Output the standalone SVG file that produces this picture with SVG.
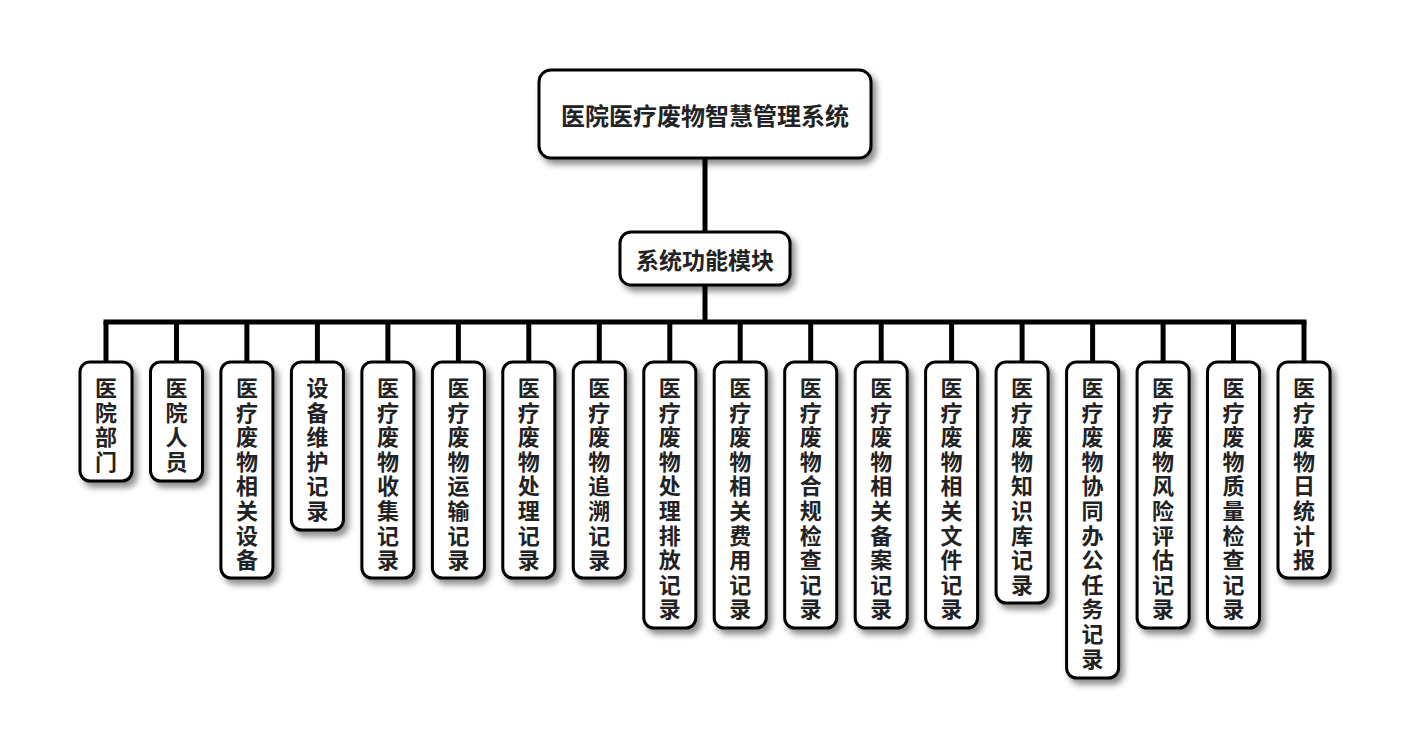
<svg xmlns="http://www.w3.org/2000/svg" width="1409" height="754" viewBox="0 0 1409 754">
<defs>
<filter id="sh" x="-30%" y="-30%" width="160%" height="160%">
<feDropShadow dx="4" dy="5" stdDeviation="3" flood-color="#000" flood-opacity="0.45"/>
</filter>
<style>
.box{fill:#fff;stroke:#000;stroke-width:3;filter:url(#sh)}
.t{font-family:"Noto Sans CJK SC","Noto Sans",sans-serif;font-weight:bold;fill:#222;text-anchor:middle;dominant-baseline:central}
.leaf{font-size:22px}
.conn{stroke:#000;stroke-width:5;fill:none}
</style>
</defs>
<rect width="1409" height="754" fill="#fff"/>
<g id="connectors">
<line class="conn" x1="705" y1="158" x2="705" y2="232"/>
<line class="conn" x1="705" y1="285" x2="705" y2="324"/>
<line class="conn" x1="103.5" y1="322" x2="1306.5" y2="322"/>
<line class="conn" x1="106" y1="322" x2="106" y2="362"/>
<line class="conn" x1="176.5" y1="322" x2="176.5" y2="362"/>
<line class="conn" x1="246.9" y1="322" x2="246.9" y2="362"/>
<line class="conn" x1="317.4" y1="322" x2="317.4" y2="362"/>
<line class="conn" x1="387.9" y1="322" x2="387.9" y2="362"/>
<line class="conn" x1="458.4" y1="322" x2="458.4" y2="362"/>
<line class="conn" x1="528.8" y1="322" x2="528.8" y2="362"/>
<line class="conn" x1="599.3" y1="322" x2="599.3" y2="362"/>
<line class="conn" x1="669.8" y1="322" x2="669.8" y2="362"/>
<line class="conn" x1="740.2" y1="322" x2="740.2" y2="362"/>
<line class="conn" x1="810.7" y1="322" x2="810.7" y2="362"/>
<line class="conn" x1="881.2" y1="322" x2="881.2" y2="362"/>
<line class="conn" x1="951.6" y1="322" x2="951.6" y2="362"/>
<line class="conn" x1="1022.1" y1="322" x2="1022.1" y2="362"/>
<line class="conn" x1="1092.6" y1="322" x2="1092.6" y2="362"/>
<line class="conn" x1="1163.1" y1="322" x2="1163.1" y2="362"/>
<line class="conn" x1="1233.5" y1="322" x2="1233.5" y2="362"/>
<line class="conn" x1="1304" y1="322" x2="1304" y2="362"/>
</g>
<g id="root">
<rect class="box" x="539" y="70" width="332" height="88" rx="12"/>
<text class="t" x="705" y="114" font-size="24">医院医疗废物智慧管理系统</text>
</g>
<g id="module">
<rect class="box" x="620" y="232" width="170" height="53" rx="11"/>
<text class="t" x="705" y="259" font-size="23">系统功能模块</text>
</g>
<g id="n1"><rect class="box" x="80" y="362" width="52" height="119" rx="10"/><text class="t leaf" x="106" y="386"><tspan x="106">医</tspan><tspan x="106" dy="24.6">院</tspan><tspan x="106" dy="24.6">部</tspan><tspan x="106" dy="24.6">门</tspan></text></g>
<g id="n2"><rect class="box" x="150.5" y="362" width="52" height="119" rx="10"/><text class="t leaf" x="176.5" y="386"><tspan x="176.5">医</tspan><tspan x="176.5" dy="24.6">院</tspan><tspan x="176.5" dy="24.6">人</tspan><tspan x="176.5" dy="24.6">员</tspan></text></g>
<g id="n3"><rect class="box" x="220.9" y="362" width="52" height="216" rx="10"/><text class="t leaf" x="246.9" y="386"><tspan x="246.9">医</tspan><tspan x="246.9" dy="24.6">疗</tspan><tspan x="246.9" dy="24.6">废</tspan><tspan x="246.9" dy="24.6">物</tspan><tspan x="246.9" dy="24.6">相</tspan><tspan x="246.9" dy="24.6">关</tspan><tspan x="246.9" dy="24.6">设</tspan><tspan x="246.9" dy="24.6">备</tspan></text></g>
<g id="n4"><rect class="box" x="291.4" y="362" width="52" height="168" rx="10"/><text class="t leaf" x="317.4" y="386"><tspan x="317.4">设</tspan><tspan x="317.4" dy="24.6">备</tspan><tspan x="317.4" dy="24.6">维</tspan><tspan x="317.4" dy="24.6">护</tspan><tspan x="317.4" dy="24.6">记</tspan><tspan x="317.4" dy="24.6">录</tspan></text></g>
<g id="n5"><rect class="box" x="361.9" y="362" width="52" height="216" rx="10"/><text class="t leaf" x="387.9" y="386"><tspan x="387.9">医</tspan><tspan x="387.9" dy="24.6">疗</tspan><tspan x="387.9" dy="24.6">废</tspan><tspan x="387.9" dy="24.6">物</tspan><tspan x="387.9" dy="24.6">收</tspan><tspan x="387.9" dy="24.6">集</tspan><tspan x="387.9" dy="24.6">记</tspan><tspan x="387.9" dy="24.6">录</tspan></text></g>
<g id="n6"><rect class="box" x="432.4" y="362" width="52" height="216" rx="10"/><text class="t leaf" x="458.4" y="386"><tspan x="458.4">医</tspan><tspan x="458.4" dy="24.6">疗</tspan><tspan x="458.4" dy="24.6">废</tspan><tspan x="458.4" dy="24.6">物</tspan><tspan x="458.4" dy="24.6">运</tspan><tspan x="458.4" dy="24.6">输</tspan><tspan x="458.4" dy="24.6">记</tspan><tspan x="458.4" dy="24.6">录</tspan></text></g>
<g id="n7"><rect class="box" x="502.8" y="362" width="52" height="216" rx="10"/><text class="t leaf" x="528.8" y="386"><tspan x="528.8">医</tspan><tspan x="528.8" dy="24.6">疗</tspan><tspan x="528.8" dy="24.6">废</tspan><tspan x="528.8" dy="24.6">物</tspan><tspan x="528.8" dy="24.6">处</tspan><tspan x="528.8" dy="24.6">理</tspan><tspan x="528.8" dy="24.6">记</tspan><tspan x="528.8" dy="24.6">录</tspan></text></g>
<g id="n8"><rect class="box" x="573.3" y="362" width="52" height="216" rx="10"/><text class="t leaf" x="599.3" y="386"><tspan x="599.3">医</tspan><tspan x="599.3" dy="24.6">疗</tspan><tspan x="599.3" dy="24.6">废</tspan><tspan x="599.3" dy="24.6">物</tspan><tspan x="599.3" dy="24.6">追</tspan><tspan x="599.3" dy="24.6">溯</tspan><tspan x="599.3" dy="24.6">记</tspan><tspan x="599.3" dy="24.6">录</tspan></text></g>
<g id="n9"><rect class="box" x="643.8" y="362" width="52" height="266" rx="10"/><text class="t leaf" x="669.8" y="386"><tspan x="669.8">医</tspan><tspan x="669.8" dy="24.6">疗</tspan><tspan x="669.8" dy="24.6">废</tspan><tspan x="669.8" dy="24.6">物</tspan><tspan x="669.8" dy="24.6">处</tspan><tspan x="669.8" dy="24.6">理</tspan><tspan x="669.8" dy="24.6">排</tspan><tspan x="669.8" dy="24.6">放</tspan><tspan x="669.8" dy="24.6">记</tspan><tspan x="669.8" dy="24.6">录</tspan></text></g>
<g id="n10"><rect class="box" x="714.2" y="362" width="52" height="266" rx="10"/><text class="t leaf" x="740.2" y="386"><tspan x="740.2">医</tspan><tspan x="740.2" dy="24.6">疗</tspan><tspan x="740.2" dy="24.6">废</tspan><tspan x="740.2" dy="24.6">物</tspan><tspan x="740.2" dy="24.6">相</tspan><tspan x="740.2" dy="24.6">关</tspan><tspan x="740.2" dy="24.6">费</tspan><tspan x="740.2" dy="24.6">用</tspan><tspan x="740.2" dy="24.6">记</tspan><tspan x="740.2" dy="24.6">录</tspan></text></g>
<g id="n11"><rect class="box" x="784.7" y="362" width="52" height="266" rx="10"/><text class="t leaf" x="810.7" y="386"><tspan x="810.7">医</tspan><tspan x="810.7" dy="24.6">疗</tspan><tspan x="810.7" dy="24.6">废</tspan><tspan x="810.7" dy="24.6">物</tspan><tspan x="810.7" dy="24.6">合</tspan><tspan x="810.7" dy="24.6">规</tspan><tspan x="810.7" dy="24.6">检</tspan><tspan x="810.7" dy="24.6">查</tspan><tspan x="810.7" dy="24.6">记</tspan><tspan x="810.7" dy="24.6">录</tspan></text></g>
<g id="n12"><rect class="box" x="855.2" y="362" width="52" height="266" rx="10"/><text class="t leaf" x="881.2" y="386"><tspan x="881.2">医</tspan><tspan x="881.2" dy="24.6">疗</tspan><tspan x="881.2" dy="24.6">废</tspan><tspan x="881.2" dy="24.6">物</tspan><tspan x="881.2" dy="24.6">相</tspan><tspan x="881.2" dy="24.6">关</tspan><tspan x="881.2" dy="24.6">备</tspan><tspan x="881.2" dy="24.6">案</tspan><tspan x="881.2" dy="24.6">记</tspan><tspan x="881.2" dy="24.6">录</tspan></text></g>
<g id="n13"><rect class="box" x="925.6" y="362" width="52" height="266" rx="10"/><text class="t leaf" x="951.6" y="386"><tspan x="951.6">医</tspan><tspan x="951.6" dy="24.6">疗</tspan><tspan x="951.6" dy="24.6">废</tspan><tspan x="951.6" dy="24.6">物</tspan><tspan x="951.6" dy="24.6">相</tspan><tspan x="951.6" dy="24.6">关</tspan><tspan x="951.6" dy="24.6">文</tspan><tspan x="951.6" dy="24.6">件</tspan><tspan x="951.6" dy="24.6">记</tspan><tspan x="951.6" dy="24.6">录</tspan></text></g>
<g id="n14"><rect class="box" x="996.1" y="362" width="52" height="241" rx="10"/><text class="t leaf" x="1022.1" y="386"><tspan x="1022.1">医</tspan><tspan x="1022.1" dy="24.6">疗</tspan><tspan x="1022.1" dy="24.6">废</tspan><tspan x="1022.1" dy="24.6">物</tspan><tspan x="1022.1" dy="24.6">知</tspan><tspan x="1022.1" dy="24.6">识</tspan><tspan x="1022.1" dy="24.6">库</tspan><tspan x="1022.1" dy="24.6">记</tspan><tspan x="1022.1" dy="24.6">录</tspan></text></g>
<g id="n15"><rect class="box" x="1066.6" y="362" width="52" height="316" rx="10"/><text class="t leaf" x="1092.6" y="386"><tspan x="1092.6">医</tspan><tspan x="1092.6" dy="24.6">疗</tspan><tspan x="1092.6" dy="24.6">废</tspan><tspan x="1092.6" dy="24.6">物</tspan><tspan x="1092.6" dy="24.6">协</tspan><tspan x="1092.6" dy="24.6">同</tspan><tspan x="1092.6" dy="24.6">办</tspan><tspan x="1092.6" dy="24.6">公</tspan><tspan x="1092.6" dy="24.6">任</tspan><tspan x="1092.6" dy="24.6">务</tspan><tspan x="1092.6" dy="24.6">记</tspan><tspan x="1092.6" dy="24.6">录</tspan></text></g>
<g id="n16"><rect class="box" x="1137.1" y="362" width="52" height="266" rx="10"/><text class="t leaf" x="1163.1" y="386"><tspan x="1163.1">医</tspan><tspan x="1163.1" dy="24.6">疗</tspan><tspan x="1163.1" dy="24.6">废</tspan><tspan x="1163.1" dy="24.6">物</tspan><tspan x="1163.1" dy="24.6">风</tspan><tspan x="1163.1" dy="24.6">险</tspan><tspan x="1163.1" dy="24.6">评</tspan><tspan x="1163.1" dy="24.6">估</tspan><tspan x="1163.1" dy="24.6">记</tspan><tspan x="1163.1" dy="24.6">录</tspan></text></g>
<g id="n17"><rect class="box" x="1207.5" y="362" width="52" height="266" rx="10"/><text class="t leaf" x="1233.5" y="386"><tspan x="1233.5">医</tspan><tspan x="1233.5" dy="24.6">疗</tspan><tspan x="1233.5" dy="24.6">废</tspan><tspan x="1233.5" dy="24.6">物</tspan><tspan x="1233.5" dy="24.6">质</tspan><tspan x="1233.5" dy="24.6">量</tspan><tspan x="1233.5" dy="24.6">检</tspan><tspan x="1233.5" dy="24.6">查</tspan><tspan x="1233.5" dy="24.6">记</tspan><tspan x="1233.5" dy="24.6">录</tspan></text></g>
<g id="n18"><rect class="box" x="1278" y="362" width="52" height="216" rx="10"/><text class="t leaf" x="1304" y="386"><tspan x="1304">医</tspan><tspan x="1304" dy="24.6">疗</tspan><tspan x="1304" dy="24.6">废</tspan><tspan x="1304" dy="24.6">物</tspan><tspan x="1304" dy="24.6">日</tspan><tspan x="1304" dy="24.6">统</tspan><tspan x="1304" dy="24.6">计</tspan><tspan x="1304" dy="24.6">报</tspan></text></g>
</svg>
